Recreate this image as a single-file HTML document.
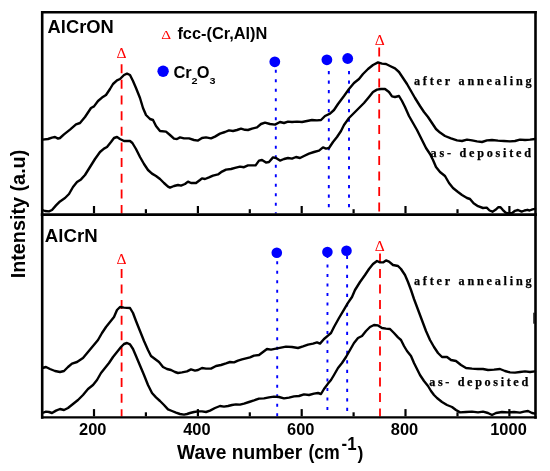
<!DOCTYPE html>
<html><head><meta charset="utf-8"><title>Raman spectra</title>
<style>
html,body{margin:0;padding:0;background:#fff;}
body{width:550px;height:471px;overflow:hidden;}
svg{display:block;}
.sans{font-family:"Liberation Sans",Arial,sans-serif;font-weight:bold;fill:#000;}
.serif{font-family:"Liberation Serif","Times New Roman",serif;font-weight:bold;fill:#000;}
.delta{font-family:"Liberation Serif","Times New Roman",serif;fill:#f00;}
</style></head><body>
<svg width="550" height="471" viewBox="0 0 550 471">
<rect width="550" height="471" fill="#fff"/>
<g stroke="#f00" stroke-width="1.8" fill="none">
<line x1="121.6" y1="64.2" x2="121.6" y2="213.4" stroke-dasharray="9 6.65"/>
<line x1="379.2" y1="47.5" x2="379.2" y2="213.4" stroke-dasharray="9 6.5"/>
<line x1="121.6" y1="268.9" x2="121.6" y2="416.4" stroke-dasharray="9 6.6"/>
<line x1="380" y1="253.6" x2="380" y2="416.4" stroke-dasharray="9 6.5"/>
</g>
<g stroke="#00f" stroke-width="1.9" stroke-dasharray="3.1 6.4" fill="none">
<line x1="275.8" y1="69.7" x2="275.8" y2="213.5"/>
<line x1="328.8" y1="71.1" x2="328.8" y2="213.5"/>
<line x1="349.0" y1="71.1" x2="349.0" y2="213.5"/>
<line x1="277.2" y1="261.2" x2="277.2" y2="416.4"/>
<line x1="327.5" y1="254.9" x2="327.4" y2="416.4"/>
<line x1="347.1" y1="255.8" x2="347.2" y2="416.4"/>
</g>
<g fill="#00f">
<circle cx="274.8" cy="61.8" r="5.4"/><circle cx="326.9" cy="59.8" r="5.4"/><circle cx="347.7" cy="58.5" r="5.4"/>
<circle cx="276.8" cy="252.8" r="5.3"/><circle cx="327.4" cy="252" r="5.3"/><circle cx="346.5" cy="250.8" r="5.3"/>
<circle cx="163.1" cy="71.3" r="5.7"/>
</g>
<g fill="none" stroke="#000" stroke-width="2.4" stroke-linejoin="round" stroke-linecap="round">
<polyline points="42.4,139.6 48.0,139.0 52.0,137.6 55.0,137.0 58.0,138.6 60.0,138.0 64.0,134.4 70.0,129.6 76.0,124.4 80.0,123.0 85.0,117.0 91.0,108.0 94.0,106.4 98.0,101.0 102.0,97.6 106.0,95.0 110.0,89.0 113.0,84.0 117.0,80.4 120.0,79.0 124.0,75.0 127.0,73.6 130.0,75.0 133.0,81.0 136.0,88.0 140.0,98.0 143.0,108.0 146.0,115.0 150.0,119.0 153.0,120.0 156.0,126.0 160.0,131.0 166.0,131.6 170.0,135.0 174.0,138.6 177.0,139.0 180.0,137.4 184.0,138.4 189.0,138.4 194.0,140.0 198.0,140.6 202.0,138.0 206.0,137.4 211.0,138.4 215.0,136.6 220.0,133.6 225.0,132.0 229.0,130.4 233.0,131.0 237.0,130.0 241.0,128.6 245.0,129.8 248.0,130.0 252.0,128.6 257.0,127.4 261.0,124.0 265.0,122.6 270.0,124.0 275.0,124.6 280.0,122.0 284.0,123.0 288.0,121.6 292.0,122.0 297.0,121.6 302.0,122.0 307.0,121.0 312.0,120.0 317.0,120.4 321.0,120.0 325.0,116.0 330.0,113.6 334.0,110.0 338.0,104.0 341.0,100.0 344.0,96.0 349.0,89.0 354.0,83.0 359.0,79.0 363.0,74.0 368.0,69.0 373.0,65.0 378.0,62.4 382.0,63.6 386.0,64.0 390.0,66.0 395.0,68.4 399.0,72.0 403.0,78.0 407.0,84.0 411.0,91.0 415.0,98.0 420.0,106.0 424.0,112.0 428.0,117.0 432.0,123.0 436.0,129.0 440.0,132.6 445.0,136.0 451.0,138.4 457.0,140.4 462.0,141.0 467.0,139.6 472.0,140.4 477.0,141.4 482.0,142.0 487.0,140.4 492.0,140.0 498.0,140.6 504.0,141.0 510.0,141.4 515.0,141.0 520.0,139.6 525.0,140.0 530.0,139.6 535.0,139.0"/>
<polyline points="42.4,210.0 45.0,211.0 49.0,211.4 52.0,210.0 56.0,205.4 60.0,201.4 65.0,198.0 69.0,194.0 73.0,187.0 77.0,182.0 81.0,179.4 85.0,175.0 90.0,167.0 95.0,159.0 100.0,152.0 104.0,148.6 107.0,147.0 111.0,142.0 114.0,138.0 117.0,137.0 120.0,139.0 124.0,141.0 130.0,141.0 132.4,143.0 136.0,149.0 140.0,157.0 144.0,164.0 148.0,170.0 152.0,173.6 156.0,176.0 160.0,179.0 164.0,183.0 168.0,186.6 170.0,187.6 174.0,186.0 178.0,185.0 181.0,185.6 185.0,184.0 188.0,181.6 191.0,183.0 196.0,183.0 200.0,180.0 202.0,178.4 205.0,179.0 209.0,177.4 213.0,175.6 218.0,174.4 222.0,171.6 226.0,169.6 231.0,169.0 236.0,167.6 240.0,166.6 244.0,167.2 248.0,165.4 252.0,165.4 255.6,165.4 259.0,160.6 262.0,160.0 266.0,162.6 269.0,162.0 273.0,157.4 276.0,158.0 280.0,160.6 284.0,159.0 288.0,158.0 292.0,158.6 296.0,157.0 300.0,158.0 304.0,156.0 309.0,153.6 314.0,152.0 319.0,150.6 323.0,147.4 326.0,148.6 329.0,148.0 333.0,142.0 337.0,137.0 341.0,131.0 344.0,125.0 349.0,118.0 354.0,113.0 359.0,108.0 364.0,103.0 369.0,97.0 373.0,92.0 377.0,89.6 381.0,89.0 385.0,89.0 389.0,92.0 392.0,96.4 395.0,97.0 399.0,96.0 402.0,101.0 405.0,107.0 409.0,116.0 413.0,123.0 417.0,130.0 421.0,138.0 424.0,144.0 426.0,148.0 430.0,154.0 433.0,160.0 436.0,167.0 440.0,172.0 445.0,176.0 449.0,183.0 453.0,188.0 458.0,192.0 462.0,195.0 467.0,198.0 470.0,199.0 473.6,203.3 478.0,206.2 483.0,208.0 486.7,207.6 489.6,210.5 492.5,211.7 495.5,209.8 498.4,207.2 500.5,207.2 502.7,209.8 505.6,212.7 508.5,213.5 512.2,213.0 515.0,210.8 518.0,210.0 521.6,211.6 524.5,210.5 527.5,209.8 529.6,210.5 532.5,209.4 535.0,208.8"/>
<polyline points="42.4,368.0 46.0,367.0 50.0,369.0 55.0,371.0 60.0,372.0 64.0,371.0 68.0,367.0 72.0,363.6 77.0,362.0 83.0,358.0 88.0,352.0 93.0,346.0 98.0,340.0 102.0,333.0 106.0,327.0 110.0,322.0 114.0,317.0 117.0,310.0 120.0,307.0 124.0,307.6 130.0,308.0 133.0,313.0 136.0,321.0 140.0,331.0 144.0,341.0 148.0,350.0 151.0,356.0 155.0,359.0 159.0,362.0 163.0,367.0 167.0,369.0 171.0,370.0 175.0,372.0 178.0,373.0 182.0,372.4 187.0,371.4 191.0,369.4 195.0,370.6 198.0,370.0 202.0,368.0 206.0,368.6 211.0,368.6 216.0,366.0 221.0,365.0 226.0,363.4 230.0,362.0 234.0,362.4 238.0,360.6 242.0,359.4 246.0,358.4 250.0,357.4 254.0,355.6 259.0,355.0 263.0,352.0 267.0,349.0 271.0,349.6 276.0,348.6 281.0,347.6 286.0,346.6 292.0,347.0 298.0,348.0 303.0,346.4 308.0,344.6 313.0,343.6 317.0,342.4 320.0,343.6 324.0,339.0 328.0,335.6 331.0,333.0 334.0,327.0 339.0,318.0 343.4,310.6 347.8,303.2 352.0,297.0 355.0,290.0 360.0,282.0 365.0,275.0 369.0,269.0 373.0,264.0 377.0,261.0 380.0,262.4 383.0,262.4 386.0,260.4 389.0,261.6 393.0,265.0 398.0,266.0 401.0,269.0 405.0,275.0 408.0,282.0 411.0,290.0 414.0,299.0 417.0,307.0 420.0,315.0 423.0,323.0 426.0,331.0 430.0,340.0 434.0,347.0 438.0,353.0 442.0,357.0 447.0,357.0 451.0,360.0 456.0,361.0 461.0,365.0 466.0,368.0 472.0,368.6 478.0,369.0 483.0,369.0 488.0,370.0 494.0,369.6 500.0,369.0 505.0,371.0 510.0,372.4 515.0,372.6 520.0,372.0 525.0,371.4 530.0,372.0 535.0,371.4"/>
<polyline points="42.4,413.0 46.0,411.6 49.0,412.0 52.0,413.0 56.0,410.6 60.0,409.0 64.0,410.0 68.0,408.0 73.0,404.0 78.0,400.0 83.0,395.0 88.0,389.0 93.0,385.0 97.0,380.0 101.0,373.0 105.0,368.0 109.0,363.0 113.0,357.0 117.0,352.0 121.0,347.0 124.0,344.0 127.0,343.0 130.0,344.4 133.0,349.0 136.0,356.0 140.0,365.5 144.0,375.0 148.0,385.0 152.0,393.0 156.0,397.4 160.0,401.0 164.0,405.0 168.0,409.4 172.0,411.0 176.0,412.6 180.0,414.0 184.0,414.6 187.0,414.0 190.0,413.0 194.0,412.0 198.0,411.4 202.0,411.4 206.0,412.0 210.0,410.6 215.0,408.0 220.0,406.0 224.0,406.6 228.0,406.0 232.0,405.0 236.0,404.4 240.0,404.6 244.0,403.6 249.0,402.0 254.0,400.4 259.0,398.6 264.0,398.4 269.0,397.4 274.0,396.6 279.0,397.0 284.0,398.4 289.0,397.6 294.0,396.4 299.0,396.0 304.0,394.4 309.0,395.0 314.0,393.6 318.0,393.0 321.0,394.0 324.0,389.0 328.0,383.6 331.0,380.0 334.0,375.0 338.0,368.0 342.0,363.0 346.0,357.0 350.0,350.0 354.0,343.0 358.0,338.0 362.0,336.0 366.0,331.0 370.0,327.0 374.0,325.0 378.0,325.4 382.0,328.0 386.0,328.6 390.0,329.0 394.0,333.0 398.0,337.4 401.0,340.0 404.0,346.0 407.0,351.0 411.0,356.0 414.0,363.0 417.0,369.0 420.0,375.0 424.0,381.0 428.0,386.0 431.0,391.0 434.0,395.0 437.0,398.0 442.0,402.0 447.0,405.0 452.0,407.0 456.0,410.0 460.0,412.4 466.0,412.0 472.0,411.6 478.0,412.4 483.0,411.6 488.0,413.0 492.0,415.0 496.0,413.0 502.0,412.0 508.0,412.4 514.0,412.0 520.0,412.6 524.0,411.6 528.0,411.0 532.0,413.0 535.0,413.6"/>
</g>
<g stroke="#000" stroke-width="2.2" fill="none">
<line x1="94.0" y1="206.0" x2="94.0" y2="213.2"/>
<line x1="145.9" y1="209.2" x2="145.9" y2="213.2"/>
<line x1="197.9" y1="206.0" x2="197.9" y2="213.2"/>
<line x1="249.8" y1="209.2" x2="249.8" y2="213.2"/>
<line x1="301.7" y1="206.0" x2="301.7" y2="213.2"/>
<line x1="353.6" y1="209.2" x2="353.6" y2="213.2"/>
<line x1="405.5" y1="206.0" x2="405.5" y2="213.2"/>
<line x1="457.5" y1="209.2" x2="457.5" y2="213.2"/>
<line x1="509.4" y1="206.0" x2="509.4" y2="213.2"/>
<line x1="94.0" y1="409.1" x2="94.0" y2="416.3"/>
<line x1="145.9" y1="412.3" x2="145.9" y2="416.3"/>
<line x1="197.9" y1="409.1" x2="197.9" y2="416.3"/>
<line x1="249.8" y1="412.3" x2="249.8" y2="416.3"/>
<line x1="301.7" y1="409.1" x2="301.7" y2="416.3"/>
<line x1="353.6" y1="412.3" x2="353.6" y2="416.3"/>
<line x1="405.5" y1="409.1" x2="405.5" y2="416.3"/>
<line x1="457.5" y1="412.3" x2="457.5" y2="416.3"/>
<line x1="509.4" y1="409.1" x2="509.4" y2="416.3"/>
</g>
<g stroke="#000" stroke-width="2.6" fill="none" stroke-linecap="square">
<line x1="42.2" y1="12.3" x2="42.2" y2="417.4"/>
<line x1="535.5" y1="12.3" x2="535.5" y2="417.4" stroke-width="2.6"/>
<line x1="42.2" y1="12.3" x2="535.5" y2="12.3" stroke-width="2.4"/>
<line x1="42.2" y1="214.6" x2="535.5" y2="214.6" stroke-width="2.8"/>
<line x1="42.2" y1="417.4" x2="535.5" y2="417.4" stroke-width="2.3"/>
<rect x="533.3" y="312.7" width="1.2" height="11" fill="#000" stroke="none"/>
</g>
<g class="sans" font-size="15.8">
<text transform="translate(92.8,434.5) scale(1.04,1)" text-anchor="middle">200</text>
<text transform="translate(196.9,434.5) scale(1.04,1)" text-anchor="middle">400</text>
<text transform="translate(300.7,434.5) scale(1.04,1)" text-anchor="middle">600</text>
<text transform="translate(404.5,434.5) scale(1.04,1)" text-anchor="middle">800</text>
<text transform="translate(508.5,434.5) scale(1.04,1)" text-anchor="middle">1000</text>
</g>
<text class="sans" font-size="17.6" x="47.6" y="33.4" textLength="66.2" lengthAdjust="spacingAndGlyphs">AlCrON</text>
<text class="sans" font-size="17.6" x="44.8" y="241.6" textLength="52.8" lengthAdjust="spacingAndGlyphs">AlCrN</text>
<text class="sans" font-size="16" x="177.4" y="39.3" textLength="90" lengthAdjust="spacingAndGlyphs">fcc-(Cr,Al)N</text>
<text class="sans" font-size="16.4" x="173.5" y="77.5">Cr</text>
<text class="sans" font-size="16.4" x="196.7" y="77.5">O</text>
<text class="sans" font-size="9.8" transform="translate(191.6,83.8) scale(1.1,1)">2</text>
<text class="sans" font-size="9.8" transform="translate(209.4,83.8) scale(1.1,1)">3</text>
<text class="sans" font-size="19.3" x="177.0" y="458.8" textLength="125.2" lengthAdjust="spacingAndGlyphs">Wave number</text>
<text class="sans" font-size="19.3" x="308.4" y="458.8" textLength="31.4" lengthAdjust="spacingAndGlyphs">(cm</text>
<text class="sans" font-size="17.8" x="341.6" y="450" textLength="15" lengthAdjust="spacingAndGlyphs">-1</text>
<text class="sans" font-size="17.6" x="357.4" y="458.6">)</text>
<text class="sans" font-size="20" transform="translate(24.5,278.3) rotate(-90)" textLength="128.6" lengthAdjust="spacingAndGlyphs">Intensity (a.u)</text>
<g class="serif" font-size="12.2" stroke="#000" stroke-width="0.25">
<text x="414.0" y="85.3" textLength="117.6" lengthAdjust="spacing">after annealing</text>
<text x="430.6" y="157.1" textLength="100.4" lengthAdjust="spacing">as- deposited</text>
<text x="414.0" y="284.6" textLength="117.6" lengthAdjust="spacing">after annealing</text>
<text x="429.2" y="385.5" textLength="99.0" lengthAdjust="spacing">as- deposited</text>
</g>
<text class="delta" font-size="14.6" transform="translate(121.4,58.3) scale(1.07,1)" text-anchor="middle">Δ</text>
<text class="delta" font-size="14.6" transform="translate(379.7,44.9) scale(1.07,1)" text-anchor="middle">Δ</text>
<text class="delta" font-size="14.6" transform="translate(121.6,263.7) scale(1.07,1)" text-anchor="middle">Δ</text>
<text class="delta" font-size="14.6" transform="translate(379.7,250.8) scale(1.07,1)" text-anchor="middle">Δ</text>
<text class="delta" font-size="12.8" transform="translate(166.1,39.2) scale(1.2,1)" text-anchor="middle">Δ</text>
</svg>
</body></html>
